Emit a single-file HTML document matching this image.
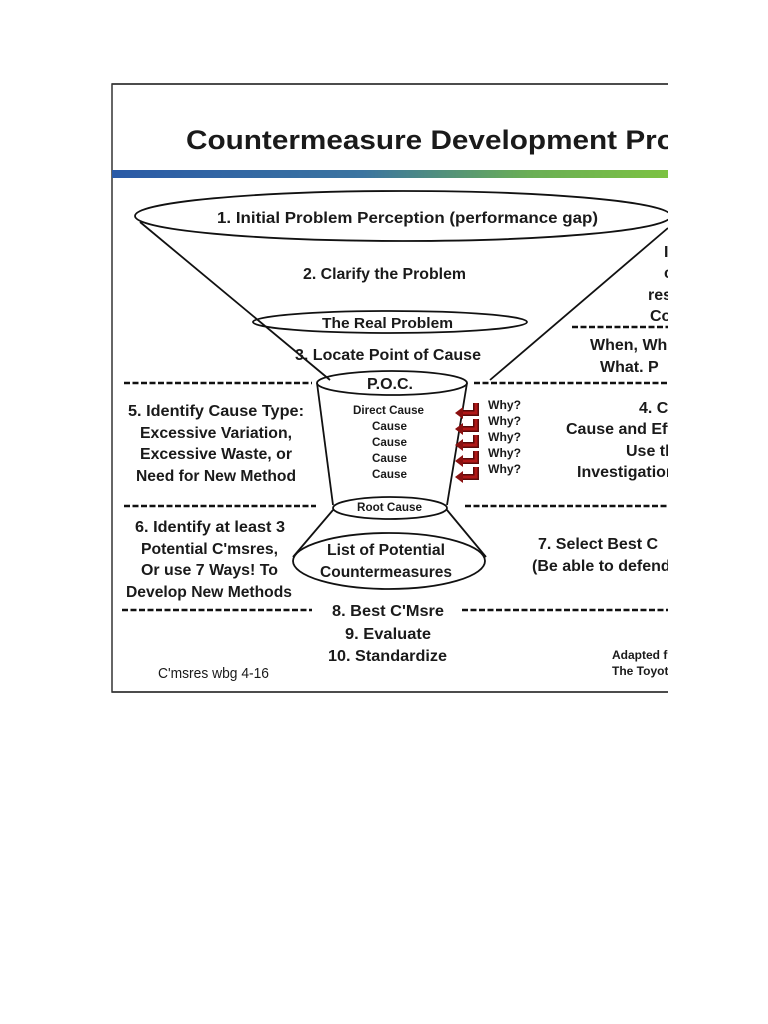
<!DOCTYPE html>
<html><head><meta charset="utf-8"><style>
html,body{margin:0;padding:0;background:#fff;}
svg{display:block;}
text{font-family:"Liberation Sans",Arial,sans-serif;fill:#1a1a1a;}
.b{font-weight:bold;}
</style></head><body>
<svg width="768" height="1024" viewBox="0 0 768 1024" xmlns="http://www.w3.org/2000/svg" font-family="Liberation Sans, Arial, sans-serif">
<defs>
<linearGradient id="g" x1="0" x2="1" y1="0" y2="0">
<stop offset="0" stop-color="#2a5aa6"/><stop offset="0.45" stop-color="#3b74a0"/><stop offset="0.75" stop-color="#6aae55"/><stop offset="1" stop-color="#7cc242"/></linearGradient>
<clipPath id="c"><rect x="112" y="84" width="556" height="608"/></clipPath>
</defs>
<rect x="112" y="84" width="600" height="608" fill="#fff" stroke="#333" stroke-width="1.5"/>
<rect x="668" y="80" width="100" height="620" fill="#fff"/>
<line x1="112" y1="84" x2="668" y2="84" stroke="#333" stroke-width="1.5"/>
<line x1="112" y1="692" x2="668" y2="692" stroke="#333" stroke-width="1.5"/>
<g clip-path="url(#c)">
<text x="186" y="149" class="b" font-size="27" textLength="555" lengthAdjust="spacingAndGlyphs">Countermeasure Development Process</text>
<rect x="112" y="170" width="556" height="8" fill="url(#g)"/>
<g fill="none" stroke="#111" stroke-width="1.8">
<ellipse cx="403" cy="216" rx="268" ry="25"/>
<line x1="140" y1="222" x2="330" y2="380"/>
<line x1="668" y1="228" x2="490" y2="380"/>
<ellipse cx="390" cy="322" rx="137" ry="11"/>
<ellipse cx="392" cy="383" rx="75" ry="12"/>
<line x1="317" y1="383" x2="333" y2="505"/>
<line x1="467" y1="383" x2="447" y2="505"/>
<ellipse cx="390" cy="508" rx="57" ry="11"/>
<line x1="333" y1="510" x2="293" y2="557"/>
<line x1="447" y1="510" x2="486" y2="557"/>
<ellipse cx="389" cy="561" rx="96" ry="28"/>
</g>
<g stroke="#111" stroke-width="2.5" stroke-dasharray="6,2.5">
<line x1="572" y1="327" x2="668" y2="327"/>
<line x1="124" y1="383" x2="312" y2="383"/>
<line x1="474" y1="383" x2="668" y2="383"/>
<line x1="124" y1="506" x2="316" y2="506"/>
<line x1="465" y1="506" x2="668" y2="506"/>
<line x1="122" y1="610" x2="312" y2="610"/>
<line x1="462" y1="610" x2="668" y2="610"/>
</g>
<g class="b" font-size="16" lengthAdjust="spacingAndGlyphs">
<text x="217" y="223" font-size="16" textLength="381" lengthAdjust="spacingAndGlyphs">1.  Initial Problem Perception (performance gap)</text>
<text x="303" y="279" font-size="16" textLength="163" lengthAdjust="spacingAndGlyphs">2. Clarify the Problem</text>
<text x="322" y="328" font-size="15" textLength="131" lengthAdjust="spacingAndGlyphs">The Real Problem</text>
<text x="295" y="360" font-size="16" textLength="186" lengthAdjust="spacingAndGlyphs">3.  Locate Point of Cause</text>
<text x="367" y="389" font-size="16" textLength="46" lengthAdjust="spacingAndGlyphs">P.O.C.</text>
<text x="353" y="414" font-size="11.5" textLength="71" lengthAdjust="spacingAndGlyphs">Direct Cause</text>
<text x="372" y="430" font-size="11.5" textLength="35" lengthAdjust="spacingAndGlyphs">Cause</text>
<text x="372" y="446" font-size="11.5" textLength="35" lengthAdjust="spacingAndGlyphs">Cause</text>
<text x="372" y="462" font-size="11.5" textLength="35" lengthAdjust="spacingAndGlyphs">Cause</text>
<text x="372" y="478" font-size="11.5" textLength="35" lengthAdjust="spacingAndGlyphs">Cause</text>
<text x="357" y="511" font-size="12" textLength="65" lengthAdjust="spacingAndGlyphs">Root Cause</text>
<text x="327" y="555" textLength="118" lengthAdjust="spacingAndGlyphs">List of Potential</text>
<text x="320" y="577" textLength="132" lengthAdjust="spacingAndGlyphs">Countermeasures</text>
<text x="128" y="416" textLength="176" lengthAdjust="spacingAndGlyphs">5.  Identify Cause Type:</text>
<text x="140" y="438" textLength="152" lengthAdjust="spacingAndGlyphs">Excessive Variation,</text>
<text x="140" y="459" textLength="152" lengthAdjust="spacingAndGlyphs">Excessive Waste, or</text>
<text x="136" y="481" textLength="160" lengthAdjust="spacingAndGlyphs">Need for New Method</text>
<text x="135" y="532" textLength="150" lengthAdjust="spacingAndGlyphs">6.  Identify at least 3</text>
<text x="141" y="554" textLength="137" lengthAdjust="spacingAndGlyphs">Potential C'msres,</text>
<text x="141" y="575" textLength="137" lengthAdjust="spacingAndGlyphs">Or use 7 Ways! To</text>
<text x="126" y="597" textLength="166" lengthAdjust="spacingAndGlyphs">Develop New Methods</text>
<text x="332" y="616" textLength="112" lengthAdjust="spacingAndGlyphs">8.  Best C'Msre</text>
<text x="345" y="639" textLength="86" lengthAdjust="spacingAndGlyphs">9.  Evaluate</text>
<text x="328" y="661" textLength="119" lengthAdjust="spacingAndGlyphs">10.  Standardize</text>
</g>
<text x="158" y="678" font-size="15" textLength="111" lengthAdjust="spacingAndGlyphs">C'msres wbg 4-16</text>
<g class="b" font-size="12">
<text x="612" y="659">Adapted from</text>
<text x="612" y="675">The Toyota Way</text>
</g>
<g class="b" font-size="16">
<text x="664" y="257">I</text>
<text x="664" y="278">c</text>
<text x="648" y="300">res</text>
<text x="650" y="321">Co</text>
<text x="590" y="350">When, Where</text>
<text x="600" y="372">What.  P</text>
<text x="639" y="413">4.  C</text>
<text x="566" y="434">Cause and Effect</text>
<text x="626" y="456">Use the</text>
<text x="577" y="477">Investigation</text>
<text x="538" y="549">7.  Select Best C</text>
<text x="532" y="571">(Be able to defend</text>
</g>
<g fill="none" stroke-linejoin="miter">
<g stroke="#5a0a0a" stroke-width="6">
<path d="M476 403 V413 H461"/><path d="M476 419 V429 H461"/><path d="M476 435 V445 H461"/><path d="M476 451 V461 H461"/><path d="M476 467 V477 H461"/>
</g>
<g stroke="#b01818" stroke-width="3">
<path d="M476 403 V413 H461"/><path d="M476 419 V429 H461"/><path d="M476 435 V445 H461"/><path d="M476 451 V461 H461"/><path d="M476 467 V477 H461"/>
</g>
</g>
<g fill="#8a1010">
<path d="M455 413 l8 -6 v12 z"/><path d="M455 429 l8 -6 v12 z"/><path d="M455 445 l8 -6 v12 z"/><path d="M455 461 l8 -6 v12 z"/><path d="M455 477 l8 -6 v12 z"/>
</g>
<g class="b" font-size="12">
<text x="488" y="409" textLength="33" lengthAdjust="spacingAndGlyphs">Why?</text>
<text x="488" y="425" textLength="33" lengthAdjust="spacingAndGlyphs">Why?</text>
<text x="488" y="441" textLength="33" lengthAdjust="spacingAndGlyphs">Why?</text>
<text x="488" y="457" textLength="33" lengthAdjust="spacingAndGlyphs">Why?</text>
<text x="488" y="473" textLength="33" lengthAdjust="spacingAndGlyphs">Why?</text>
</g>
</g>
</svg>
</body></html>
